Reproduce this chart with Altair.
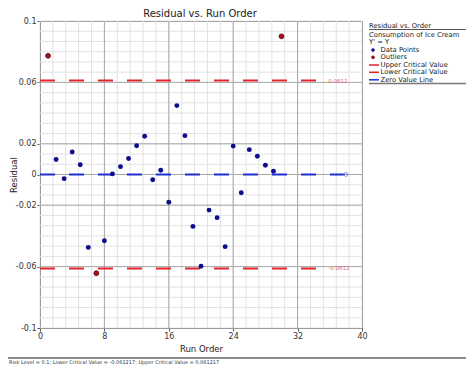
import altair as alt
import pandas as pd
import numpy as np

# ---------------- data ----------------
run_order = list(range(1, 31))
residuals = [0.0773, 0.0098, -0.0027, 0.0147, 0.0064, -0.0475, -0.0643, -0.0432, 0.0004, 0.0051,
             0.0104, 0.0187, 0.0249, -0.0034, 0.0028, -0.0181, 0.0449, 0.0253, -0.0338, -0.0598,
             -0.0232, -0.0281, -0.0470, 0.0185, -0.0119, 0.0162, 0.0119, 0.0060, 0.0021, 0.0900]
critical_value = 0.061217
critical_labels = ["0.0612", "-0.0612"]
x_ticks = [0, 8, 16, 24, 32, 40]
y_ticks = [0.1, 0.06, 0.02, 0, -0.02, -0.06, -0.1]
zero_line_end = 38
crit_line_end = 35
crit_label_x = 35.8
legend_items = ["Data Points", "Outliers", "Upper Critical Value", "Lower Critical Value", "Zero Value Line"]
footer_text = "Risk Level = 0.1; Lower Critical Value = -0.061217; Upper Critical Value = 0.061217"

FONT = "DejaVu Sans"
W, H = 322, 307
NAVY = "#0c0c8c"
OUT_FILL = "#a8101e"
OUT_STROKE = "#5a0008"
RED = "#e3242b"
BLUE = "#1f2fd0"

df = pd.DataFrame({"run": run_order, "resid": residuals})
df["outlier"] = df["resid"].abs() > critical_value

xs = alt.Scale(domain=[0, 40], nice=False, zero=False)
ys = alt.Scale(domain=[-0.1, 0.1], nice=False, zero=False)
AX = alt.Axis(values=x_ticks, grid=False, title="Run Order", titleY=20,
              titleBaseline="middle", labelFlush=False)
AY = alt.Axis(values=y_ticks, grid=False, title="Residual", titleX=-27,
              titleBaseline="middle", labelExpr="datum.value + ''", labelFlush=False)


def X(f):
    return alt.X(f, scale=xs, axis=AX)


def Y(f):
    return alt.Y(f, scale=ys, axis=AY)


# grid
minor_x = pd.DataFrame({"x": np.arange(0, 40.001, 1.6)})
minor_y = pd.DataFrame({"y": np.arange(-15, 16) * (0.02 / 3)})
major_x = pd.DataFrame({"x": [8, 16, 24, 32]})
major_y = pd.DataFrame({"y": [0.06, 0.02, 0, -0.02, -0.06]})

g1 = alt.Chart(minor_x).mark_rule(color="#e2e2e2", strokeWidth=1).encode(x=X("x:Q"))
g2 = alt.Chart(minor_y).mark_rule(color="#e2e2e2", strokeWidth=1).encode(y=Y("y:Q"))
g3 = alt.Chart(major_x).mark_rule(color="#a8a8a8", strokeWidth=1).encode(x=X("x:Q"))
g4 = alt.Chart(major_y).mark_rule(color="#a8a8a8", strokeWidth=1).encode(y=Y("y:Q"))

crit_df = pd.DataFrame({"x0": [0, 0], "x1": [crit_line_end] * 2,
                        "y": [critical_value, -critical_value],
                        "lab": critical_labels, "lx": [crit_label_x] * 2})
crit = alt.Chart(crit_df).mark_rule(color=RED, strokeWidth=2, strokeDash=[15, 14]).encode(
    x=X("x0:Q"), x2="x1:Q", y=Y("y:Q"))
crit_lab = alt.Chart(crit_df).mark_text(align="left", baseline="middle", fontSize=5.5,
                                        font=FONT, color="#e06a6a").encode(
    x=X("lx:Q"), y=Y("y:Q"), text="lab:N")

zero_df = pd.DataFrame({"x0": [0], "x1": [zero_line_end], "y": [0]})
zero = alt.Chart(zero_df).mark_rule(color=BLUE, strokeWidth=2, strokeDash=[15, 14]).encode(
    x=X("x0:Q"), x2="x1:Q", y=Y("y:Q"))
zero_end = alt.Chart(zero_df).mark_point(shape="circle", filled=False, color="#8592e6",
                                         size=14, strokeWidth=1, opacity=1).encode(
    x=X("x1:Q"), y=Y("y:Q"))

pts = alt.Chart(df[~df["outlier"]]).mark_circle(size=24, color=NAVY, opacity=1).encode(
    x=X("run:Q"), y=Y("resid:Q"))
outs = alt.Chart(df[df["outlier"]]).mark_circle(size=24, fill=OUT_FILL, stroke=OUT_STROKE,
                                                strokeWidth=0.8, opacity=1).encode(
    x=X("run:Q"), y=Y("resid:Q"))


# ---------------- decoration helpers (pixel positioned) ----------------
def one():
    return pd.DataFrame({"a": [0]})


def txt(s, x, y, size=6.8, color="#222222", align="left", baseline="middle"):
    return alt.Chart(pd.DataFrame({"t": [s]})).mark_text(
        align=align, baseline=baseline, fontSize=size, font=FONT, color=color).encode(
        x=alt.value(x), y=alt.value(y), text="t:N")


def hline(x1, x2, y, color, width=1.0):
    return alt.Chart(one()).mark_rule(color=color, strokeWidth=width).encode(
        x=alt.value(x1), x2=alt.value(x2), y=alt.value(y))


def dot(x, y, fill, stroke):
    return alt.Chart(one()).mark_circle(size=9, fill=fill, stroke=stroke, strokeWidth=0.5,
                                        opacity=1).encode(x=alt.value(x), y=alt.value(y))


LX = 329
decor = [
    txt("Residual vs. Run Order", 160, -4, size=10, color="#222222", align="center",
        baseline="alphabetic"),
    txt("Residual vs. Order", LX, 4.5),
    hline(LX, 426, 8.5, "#555555", 1),
    txt("Consumption of Ice Cream", LX, 14),
    txt("Y' = Y", LX, 21.3),
    dot(333, 29, NAVY, NAVY),
    txt(legend_items[0], 340.5, 29),
    dot(333, 36.3, OUT_FILL, OUT_STROKE),
    txt(legend_items[1], 340.5, 36.3),
    hline(LX, 339, 44, RED, 1.5),
    txt(legend_items[2], 340.5, 44),
    hline(LX, 339, 51.3, RED, 1.5),
    txt(legend_items[3], 340.5, 51.3),
    hline(LX, 339, 58.8, BLUE, 1.5),
    txt(legend_items[4], 340.5, 58.8),
    hline(LX, 426, 62.5, "#777777", 1.5),
    hline(-32, 426, 337, "#8a8a8a", 2),
    txt(footer_text, -31, 340.8, size=5, color="#333333"),
]

chart = alt.layer(g1, g2, g3, g4, crit, zero, zero_end, crit_lab, pts, outs, *decor).properties(
    width=W, height=H,
    autosize=alt.AutoSizeParams(type="none"),
    padding={"left": 32, "top": 13, "right": 104, "bottom": 37},
).configure_view(stroke="#666666", strokeWidth=1).configure_axis(
    labelFont=FONT, titleFont=FONT, labelFontSize=8, titleFontSize=8.5,
    titleFontWeight="normal", labelColor="#333333", titleColor="#222222",
    domainColor="#555555", tickColor="#555555", tickSize=3, labelPadding=1,
)

chart.save("out.html", embed_options={"renderer": "svg", "actions": False})
